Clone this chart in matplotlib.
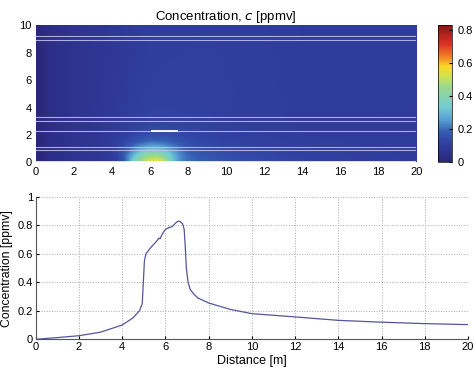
import numpy as np
import matplotlib
matplotlib.use("Agg")
import matplotlib.pyplot as plt
from matplotlib.colors import LinearSegmentedColormap

plt.rcParams["font.family"] = ["Liberation Sans", "DejaVu Sans"]
plt.rcParams["font.size"] = 8

# ground-level concentration profile
dist = [0, 1, 2, 3, 4, 4.5, 4.8, 4.93, 4.98, 5.03, 5.1, 5.3, 5.6, 5.7, 5.75,
        5.9, 6.0, 6.1, 6.3, 6.5, 6.6, 6.7, 6.8, 6.87, 6.92, 6.97, 7.05, 7.15,
        7.3, 7.5, 8, 9, 10, 12, 14, 16, 18, 20]
conc = [0.0, 0.012, 0.025, 0.05, 0.10, 0.15, 0.20, 0.25, 0.40, 0.55, 0.60,
        0.64, 0.69, 0.71, 0.705, 0.75, 0.77, 0.78, 0.79, 0.82, 0.83, 0.825,
        0.81, 0.77, 0.65, 0.50, 0.40, 0.35, 0.32, 0.29, 0.255, 0.21, 0.18,
        0.157, 0.133, 0.12, 0.11, 0.103]

# background level of the field along x, and vertical decay of the plume
bg_x = [0, 0.5, 2, 4, 6, 9, 14, 20]
bg_c = [0.0, 0.03, 0.06, 0.08, 0.105, 0.11, 0.10, 0.10]
dec_z = [0, 0.3, 0.6, 1.0, 1.5, 2.0, 3.0, 6.0, 10.0]
dec_f = [0.66, 0.60, 0.50, 0.34, 0.18, 0.10, 0.05, 0.02, 0.0]
# horizontal spreading of the plume with height (gaussian width, m)
spr_z = [0, 0.5, 1.5, 3.0, 10.0]
spr_w = [0.3, 0.5, 0.9, 1.5, 3.0]

# thin sensor lines in the top panel
line_y = [9.2, 8.95, 3.3, 3.0, 2.27, 1.12, 0.87]
seg_x = [6.1, 7.4]
seg_y = 2.27

vmax = 0.83

cmap = LinearSegmentedColormap.from_list("muted_jet", [
    (0.00, (0.17, 0.15, 0.47)),
    (0.07, (0.18, 0.20, 0.56)),
    (0.14, (0.19, 0.25, 0.63)),
    (0.22, (0.21, 0.36, 0.70)),
    (0.31, (0.33, 0.62, 0.82)),
    (0.40, (0.45, 0.80, 0.84)),
    (0.55, (0.60, 0.85, 0.55)),
    (0.63, (0.82, 0.89, 0.30)),
    (0.70, (0.98, 0.85, 0.15)),
    (0.76, (0.96, 0.55, 0.15)),
    (0.86, (0.86, 0.20, 0.15)),
    (1.00, (0.55, 0.08, 0.08)),
])

dx = 0.05
xg = np.arange(0, 20 + dx / 2, dx)
zg = np.linspace(0, 10, 201)
prof = np.interp(xg, dist, conc)
bg = np.interp(xg, bg_x, bg_c)
excess = np.clip(prof - bg, 0, None)
dec = np.interp(zg, dec_z, dec_f)
spr = np.interp(zg, spr_z, spr_w)

field = np.empty((len(zg), len(xg)))
for j in range(len(zg)):
    sig = spr[j] / dx
    k = np.arange(-int(3 * sig) - 1, int(3 * sig) + 2)
    w = np.exp(-0.5 * (k / sig) ** 2)
    w /= w.sum()
    padded = np.pad(excess, len(k) // 2, mode="edge")
    sm = np.convolve(padded, w, mode="valid")[:len(xg)]
    field[j] = bg + sm * dec[j]

fig = plt.figure(figsize=(4.74, 3.70), dpi=100)

ax1 = fig.add_axes([0.076, 0.561, 0.802, 0.371])
im = ax1.imshow(field, origin="lower", extent=[0, 20, 0, 10], aspect="auto",
                cmap=cmap, vmin=0, vmax=vmax, interpolation="bilinear")
for y in line_y:
    ax1.axhline(y, color="#c4c4ee", lw=0.8, alpha=0.85)
ax1.plot(seg_x, [seg_y, seg_y], color="white", lw=1.3)
ax1.axhline(0.02, color="white", lw=1.2)
ax1.set_xlim(0, 20)
ax1.set_ylim(0, 10)
ax1.set_xticks(np.arange(0, 21, 2))
ax1.set_yticks(np.arange(0, 11, 2))
ax1.tick_params(direction="in", length=0, pad=3)
for s in ax1.spines.values():
    s.set_visible(False)
ax1.set_title("Concentration, $c$ [ppmv]", fontsize=9.5, pad=4)

cax = fig.add_axes([0.924, 0.561, 0.0295, 0.371])
cb = fig.colorbar(im, cax=cax, ticks=[0, 0.2, 0.4, 0.6, 0.8])
cb.ax.set_yticklabels(["0", "0.2", "0.4", "0.6", "0.8"])
cb.ax.tick_params(direction="in", length=2, pad=4)
cb.outline.set_linewidth(0.5)

ax2 = fig.add_axes([0.0753, 0.083, 0.912, 0.385])
ax2.plot(dist, conc, color="#55559c", lw=0.9)
ax2.set_xlim(0, 20)
ax2.set_ylim(0, 1)
ax2.set_xticks(np.arange(0, 21, 2))
ax2.set_yticks([0, 0.2, 0.4, 0.6, 0.8, 1])
ax2.set_yticklabels(["0", "0.2", "0.4", "0.6", "0.8", "1"])
ax2.grid(True, linestyle=":", color="#a8a8a8", lw=0.7)
ax2.tick_params(direction="in", length=2, pad=2)
ax2.spines["top"].set_visible(False)
ax2.spines["right"].set_visible(False)
ax2.spines["left"].set_color("#555555")
ax2.spines["bottom"].set_color("#555555")
ax2.set_xlabel("Distance [m]", fontsize=9, labelpad=2)
ax2.set_ylabel("Concentration [ppmv]", fontsize=8.8, labelpad=3)

fig.savefig("out.png", dpi=100)
